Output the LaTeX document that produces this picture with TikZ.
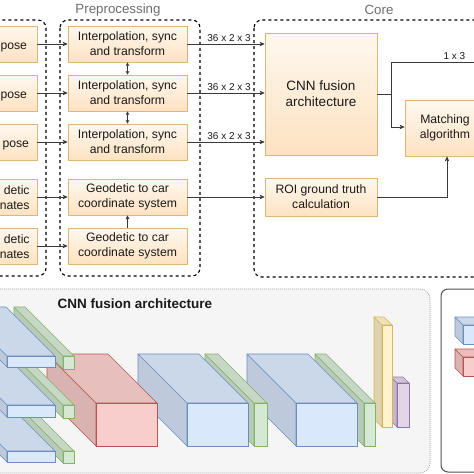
\documentclass[tikz,border=0pt]{standalone}
\usepackage{fontspec}
\setmainfont{Liberation Sans}
\usetikzlibrary{arrows.meta,shadows,calc}
\definecolor{boxtop}{HTML}{FFF8EE}
\definecolor{boxbot}{HTML}{FDE2C2}
\definecolor{boxline}{HTML}{DDB67C}
\definecolor{arr}{HTML}{3A3A3A}
\definecolor{txt}{HTML}{1A1A1A}
\definecolor{ttl}{HTML}{6E6E6E}
\definecolor{panel}{HTML}{F5F5F5}
\definecolor{paneledge}{HTML}{A0A0A0}
\definecolor{legedge}{HTML}{505050}
\definecolor{bluef}{HTML}{DAE8FC}\definecolor{blues}{HTML}{6C8EBF}
\definecolor{redf}{HTML}{F8CECC}\definecolor{reds}{HTML}{B85450}
\definecolor{greenf}{HTML}{D5E8D4}\definecolor{greens}{HTML}{82B366}
\definecolor{yellowf}{HTML}{FFF2CC}\definecolor{yellows}{HTML}{D6B656}
\definecolor{purplef}{HTML}{E1D5E7}\definecolor{purples}{HTML}{9673A6}
\newcommand\fsz[2]{\fontsize{#1}{#2}\selectfont}
% cuboid: x1 y1 x2 y2 (front face), depth, fill, stroke
\newcommand\cub[7]{%
  \filldraw[draw=#7, fill=#6!87!black, line width=0.6pt, line join=round]
    (#1,#2) -- (#1-#5,#2-#5) -- (#1-#5,#4-#5) -- (#1,#4) -- cycle;
  \filldraw[draw=#7, fill=#6!93!black, line width=0.6pt, line join=round]
    (#1,#2) -- (#1-#5,#2-#5) -- (#3-#5,#2-#5) -- (#3,#2) -- cycle;
  \filldraw[draw=#7, fill=#6, line width=0.6pt] (#1,#2) rectangle (#3,#4);
}
\begin{document}
\begin{tikzpicture}[x=1pt,y=-1pt,
  pbox/.style={draw=boxline, line width=0.6pt, top color=boxtop, bottom color=boxbot,
    align=center, inner sep=0pt, text=txt, font=\fsz{12.2}{15},
    drop shadow={shadow xshift=1.2pt, shadow yshift=-1.4pt, opacity=0.2}},
  container/.style={draw=black, line width=1.1pt, dash pattern=on 3.2pt off 2.8pt, rounded corners=8pt},
  conn/.style={draw=arr, line width=0.8pt},
  arrowed/.style={-{Stealth[length=5pt,width=4.4pt,inset=1.2pt]}},
  twoway/.style={{Stealth[length=3.6pt,width=3.6pt,inset=0.8pt]}-{Stealth[length=3.6pt,width=3.6pt,inset=0.8pt]}},
  smallup/.style={-{Stealth[length=4pt,width=3.8pt,inset=0.8pt]}},
  itext/.style={inner sep=0pt, text=txt, font=\fsz{12.2}{15}},
  dimlabel/.style={inner sep=0pt, text=txt, font=\fsz{10}{12}},
  ttlstyle/.style={inner sep=0pt, text=ttl, font=\fsz{13.3}{16}}
]
\useasboundingbox (0,0) rectangle (474,474);
\clip (0,0) rectangle (474,474);
\fill[white] (0,0) rectangle (474,474);

% ---------- containers ----------
\draw[container] (-20,20) rectangle (46,276);
\draw[container] (60,20) rectangle (200,276);
\draw[container] (254,20) rectangle (495,277);
\node[ttlstyle] (tpre) at (118,10) {Preprocessing};
\node[ttlstyle] (tcore) at (379,9.5) {Core};

% ---------- input boxes ----------
\node[pbox, minimum width=119pt, minimum height=36pt] (in1) at (-22.5,44) {};
\node[pbox, minimum width=119pt, minimum height=36pt] (in2) at (-22.5,93) {};
\node[pbox, minimum width=119pt, minimum height=36pt] (in3) at (-22.5,142) {};
\node[pbox, minimum width=119pt, minimum height=36pt] (in4) at (-22.5,197) {};
\node[pbox, minimum width=119pt, minimum height=36pt] (in5) at (-22.5,246) {};
\node[itext, anchor=base east] (in1t) at (27.2,49) {pose};
\node[itext, anchor=base east] (in2t) at (27.2,98) {pose};
\node[itext, anchor=base east] (in3t) at (29.2,147) {pose};
\node[itext, anchor=east, align=right] (in4t) at (29.8,197.5) {detic\\nates};
\node[itext, anchor=east, align=right] (in5t) at (29.8,246.5) {detic\\nates};

% ---------- preprocessing boxes ----------
\node[pbox, minimum width=119pt, minimum height=36pt] (pp1) at (127.5,44) {Interpolation, sync\\and transform};
\node[pbox, minimum width=119pt, minimum height=36pt] (pp2) at (127.5,93) {Interpolation, sync\\and transform};
\node[pbox, minimum width=119pt, minimum height=36pt] (pp3) at (127.5,142) {Interpolation, sync\\and transform};
\node[pbox, minimum width=119pt, minimum height=36pt] (pp4) at (127.5,197) {Geodetic to car\\coordinate system};
\node[pbox, minimum width=119pt, minimum height=36pt] (pp5) at (127.5,246) {Geodetic to car\\coordinate system};

% ---------- core boxes ----------
\node[pbox, minimum width=112pt, minimum height=122pt, font=\fsz{13.5}{16}] (cnn) at (321,94) {CNN fusion\\architecture};
\node[pbox, minimum width=112pt, minimum height=38pt] (roi) at (321,197) {ROI ground truth\\calculation};
\node[pbox, minimum width=80pt, minimum height=56pt] (match) at (445,128) {Matching\\algorithm};

% ---------- connectors ----------
\draw[conn,arrowed] (in1.east) -- (pp1.west);
\draw[conn,arrowed] (in2.east) -- (pp2.west);
\draw[conn,arrowed] (in3.east) -- (pp3.west);
\draw[conn,arrowed] (in4.east) -- (pp4.west);
\draw[conn,arrowed] (in5.east) -- (pp5.west);

\draw[conn,twoway] (pp1.south) -- (pp2.north);
\draw[conn,twoway] (pp2.south) -- (pp3.north);
\draw[conn,smallup] (pp5.north) -- (pp4.south);

\draw[conn,arrowed] (pp1.east) -- node[dimlabel, above=2pt, pos=0.54] (l1) {36 x 2 x 3} (pp1.east -| cnn.west);
\draw[conn,arrowed] (pp2.east) -- node[dimlabel, above=2pt, pos=0.54] (l2) {36 x 2 x 3} (pp2.east -| cnn.west);
\draw[conn,arrowed] (pp3.east) -- node[dimlabel, above=2pt, pos=0.54] (l3) {36 x 2 x 3} (pp3.east -| cnn.west);
\draw[conn,arrowed] (pp4.east) -- (roi.west);

\coordinate (cj) at (391,94);
\coordinate (cup) at (391,62);
\coordinate (cdn) at (391,127);
\coordinate (cend) at (490,62);
\coordinate (mx) at (447,0);
\draw[conn] (cnn.east) -- (cj);
\draw[conn] (cup) -- (cdn);
\draw[conn] (cup) -- node[dimlabel, above=2pt, pos=0.64] (l4) {1 x 3} (cend);
\draw[conn,arrowed] (cdn) -- (cdn -| match.west);
\draw[conn,arrowed] (roi.east) -| (match.south -| mx);

% ---------- bottom panels ----------
\draw[fill=panel, draw=paneledge, line width=0.7pt, dash pattern=on 1pt off 1pt, rounded corners=10pt]
  (-20,289) rectangle (430,473);
\node[inner sep=0pt, text=txt, font=\fsz{13.5}{16}\bfseries] (ptitle) at (135,304) {CNN fusion architecture};

\draw[fill=white, draw=legedge, line width=1pt, rounded corners=7pt] (441,289) rectangle (510,472);
\cub{463}{325}{490}{344}{8}{bluef}{blues}
\cub{463}{357}{490}{376}{8}{redf}{reds}

% cuboids, drawn back to front (right first)
\cub{397}{383}{409}{427}{6}{purplef}{purples}
\cub{382}{325}{392}{427}{8}{yellowf}{yellows}
\cub{364}{403}{375}{446}{49}{greenf}{greens}
\cub{296}{403}{357}{446}{49}{bluef}{blues}
\cub{254}{403}{267}{446}{49}{greenf}{greens}
\cub{187}{403}{248}{446}{49}{bluef}{blues}
\cub{96}{403}{157}{446}{49}{redf}{reds}
% row 3
\cub{63}{451}{74}{463}{49}{greenf}{greens}
\cub{7}{451}{55}{462}{49}{bluef}{blues}
% row 2
\cub{63}{405}{74}{418}{49}{greenf}{greens}
\cub{7}{405}{55}{417}{49}{bluef}{blues}
% row 1
\cub{63}{356}{74}{369}{49}{greenf}{greens}
\cub{7}{356}{55}{367}{49}{bluef}{blues}
\end{tikzpicture}
\end{document}
